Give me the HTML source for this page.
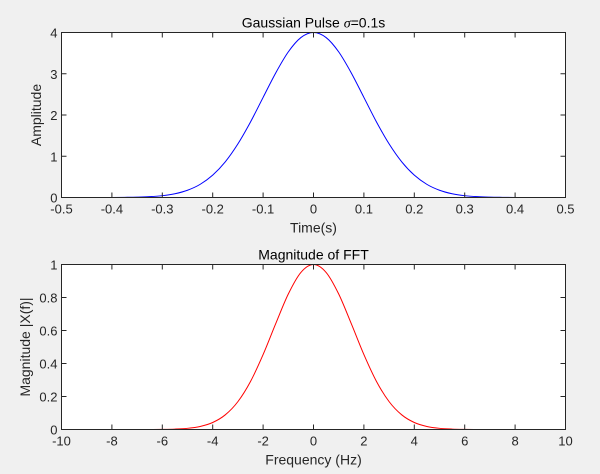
<!DOCTYPE html>
<html><head><meta charset="utf-8"><style>
body{margin:0;background:#f0f0f0;}
svg{display:block;font-family:"Liberation Sans",sans-serif;}
</style></head><body>
<svg id="fig" width="600" height="474" viewBox="0 0 600 474" xmlns="http://www.w3.org/2000/svg">
<rect width="600" height="474" fill="#f0f0f0"/>
</svg>
<script>
// Top chart data: Gaussian pulse (time step 0.025 s, from -0.5 to 0.5)
const timeHalf = [0,0.025,0.05,0.075,0.1,0.125,0.15,0.175,0.2,0.225,0.25,0.275,0.3,0.325,0.35,0.375,0.4,0.425,0.45,0.475,0.5];
const ampHalf = [4,3.877,3.530,3.019,2.426,1.831,1.299,0.865,0.541,0.318,0.176,0.091,0.044,0.020,0.009,0.004,0.001,0,0,0,0];
const timeTicks = [-0.5,-0.4,-0.3,-0.2,-0.1,0,0.1,0.2,0.3,0.4,0.5];
const timeTickLabels = ["-0.5","-0.4","-0.3","-0.2","-0.1","0","0.1","0.2","0.3","0.4","0.5"];
const ampTicks = [0,1,2,3,4];
const ampTickLabels = ["0","1","2","3","4"];
// Bottom chart data: FFT magnitude (freq step 0.5 Hz, 0..10)
const freqHalf = [0,0.5,1,1.5,2,2.5,3,3.5,4,4.5,5,5.5,6,6.5,7,7.5,8,8.5,9,9.5,10];
const magHalf = [1,0.952,0.821,0.641,0.454,0.291,0.169,0.089,0.0425,0.0184,0.0072,0.0026,0.0008,0.0002,0,0,0,0,0,0,0];
const freqTicks = [-10,-8,-6,-4,-2,0,2,4,6,8,10];
const freqTickLabels = ["-10","-8","-6","-4","-2","0","2","4","6","8","10"];
const magTicks = [0,0.2,0.4,0.6,0.8,1];
const magTickLabels = ["0","0.2","0.4","0.6","0.8","1"];

const NS="http://www.w3.org/2000/svg";
const svg=document.getElementById('fig');
function mk(tag,attrs,parent){const e=document.createElementNS(NS,tag);for(const k in attrs)e.setAttribute(k,attrs[k]);(parent||svg).appendChild(e);return e;}

function mirror(xs,ys){const X=[],Y=[];for(let i=xs.length-1;i>0;i--){X.push(-xs[i]);Y.push(ys[i]);}for(let i=0;i<xs.length;i++){X.push(xs[i]);Y.push(ys[i]);}return [X,Y];}

function drawAxes(cfg){
  const {L,R,T,B,xmin,xmax,ymin,ymax}=cfg;
  const sx=v=>L+(v-xmin)/(xmax-xmin)*(R-L);
  const sy=v=>B-(v-ymin)/(ymax-ymin)*(B-T);
  const g=mk('g',{});
  
  
  const bg=mk('rect',{x:L,y:T,width:R-L,height:B-T,fill:'#fff'},g);
  
  
  // curve (catmull-rom)
  const [X,Y]=mirror(cfg.xs,cfg.ys);
  const P=X.map((x,i)=>[sx(x),sy(Y[i])]);
  let d='M'+P[0][0].toFixed(2)+','+P[0][1].toFixed(2);
  for(let i=0;i<P.length-1;i++){
    const p0=P[Math.max(0,i-1)],p1=P[i],p2=P[i+1],p3=P[Math.min(P.length-1,i+2)];
    const c1=[p1[0]+(p2[0]-p0[0])/6,p1[1]+(p2[1]-p0[1])/6];
    const c2=[p2[0]-(p3[0]-p1[0])/6,p2[1]-(p3[1]-p1[1])/6];
    d+=' C'+c1[0].toFixed(2)+','+c1[1].toFixed(2)+' '+c2[0].toFixed(2)+','+c2[1].toFixed(2)+' '+p2[0].toFixed(2)+','+p2[1].toFixed(2);
  }
  const line=mk('path',{d:d,fill:'none',stroke:cfg.color,'stroke-width':1},g);
  
  
  // box
  const box=mk('rect',{x:L,y:T,width:R-L,height:B-T,fill:'none',stroke:'#262626','stroke-width':1},g);
  
  
  // x ticks
  cfg.xt.forEach((v,i)=>{
    const x=sx(v);
    mk('line',{x1:x,y1:B,x2:x,y2:B-5,stroke:'#262626'},g);
    mk('line',{x1:x,y1:T,x2:x,y2:T+5,stroke:'#262626'},g);
    const t=mk('text',{x:x,y:B+16,'text-anchor':'middle','font-size':13,fill:'#262626'},g);
    t.textContent=cfg.xl[i];
    
    
  });
  cfg.yt.forEach((v,i)=>{
    const y=sy(v);
    mk('line',{x1:L,y1:y,x2:L+5,y2:y,stroke:'#262626'},g);
    mk('line',{x1:R,y1:y,x2:R-5,y2:y,stroke:'#262626'},g);
    const t=mk('text',{x:L-4,y:y+5,'text-anchor':'end','font-size':13,fill:'#262626'},g);
    t.textContent=cfg.yl[i];
    
    
  });
  const title=mk('text',{x:(L+R)/2,y:T-5,'text-anchor':'middle','font-size':14,fill:'#000'},g);
  title.innerHTML=cfg.title;
  
  
  const xt=mk('text',{x:(L+R)/2,y:B+35,'text-anchor':'middle','font-size':14,fill:'#262626'},g);
  xt.textContent=cfg.xlabel;
  
  
  const cy=(T+B)/2;
  const yt=mk('text',{x:cfg.ylx,y:cy,'text-anchor':'middle','font-size':14,fill:'#262626',transform:'rotate(-90 '+cfg.ylx+' '+cy+')'},g);
  yt.textContent=cfg.ylabel;
  
  
}
drawAxes({name:'gaussian-pulse-chart',seriesName:'pulse-line',L:61.5,R:565.5,T:32.5,B:197.5,xmin:-0.5,xmax:0.5,ymin:0,ymax:4,
  xs:timeHalf,ys:ampHalf,color:'#0000ff',xt:timeTicks,xl:timeTickLabels,yt:ampTicks,yl:ampTickLabels,
  title:'Gaussian Pulse <tspan font-family="Liberation Serif" font-style="italic">σ</tspan>=0.1s',xlabel:'Time(s)',ylabel:'Amplitude',ylx:41});
drawAxes({name:'fft-magnitude-chart',seriesName:'fft-line',L:61.5,R:565.5,T:264.5,B:429.5,xmin:-10,xmax:10,ymin:0,ymax:1,
  xs:freqHalf,ys:magHalf,color:'#ff0000',xt:freqTicks,xl:freqTickLabels,yt:magTicks,yl:magTickLabels,
  title:'Magnitude of FFT',xlabel:'Frequency (Hz)',ylabel:'Magnitude |X(f)|',ylx:30});
</script>
</body></html>
